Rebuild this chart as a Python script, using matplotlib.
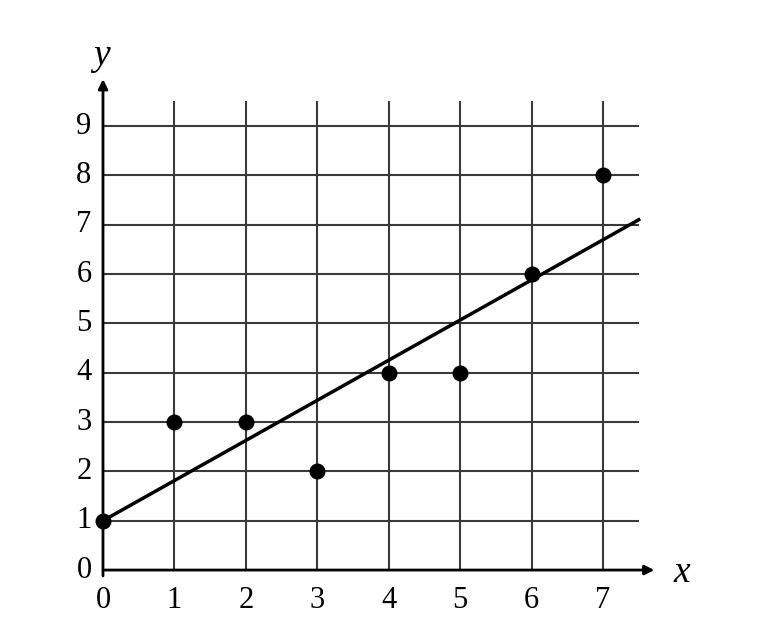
import matplotlib
matplotlib.use("Agg")
import matplotlib.pyplot as plt

# data
x_vals = [0, 1, 2, 3, 4, 5, 6, 7]
y_vals = [1, 3, 3, 2, 4, 4, 6, 8]
line_x = [0, 7.5]
line_y = [1.0, 7.1]
x_ticks = [0, 1, 2, 3, 4, 5, 6, 7]
y_ticks = [0, 1, 2, 3, 4, 5, 6, 7, 8, 9]

plt.rcParams['font.family'] = ['Liberation Serif', 'DejaVu Serif']

fig = plt.figure(figsize=(7.68, 6.32), dpi=100)
ax = fig.add_axes([0.1062, 0.059, 0.7719, 0.8587])
ax.set_xlim(-0.3, 8.0)
ax.set_ylim(-0.5, 10.5)

grid_c = '#3a3a3a'
# horizontal grid lines
for yv in y_ticks[1:]:
    ax.plot([0, 7.5], [yv, yv], color=grid_c, lw=1.5, zorder=1, solid_capstyle='butt')
# vertical grid lines
for xv in x_ticks[1:]:
    ax.plot([xv, xv], [0, 9.5], color=grid_c, lw=1.5, zorder=1, solid_capstyle='butt')

# axes with arrows
ax.annotate('', xy=(7.72, 0), xytext=(0, 0),
            arrowprops=dict(arrowstyle='-|>', color='black', lw=2.0,
                            mutation_scale=14, shrinkA=0, shrinkB=0), zorder=3)
ax.annotate('', xy=(0, 9.95), xytext=(0, -0.12),
            arrowprops=dict(arrowstyle='-|>', color='black', lw=2.0,
                            mutation_scale=14, shrinkA=0, shrinkB=0), zorder=3)

# regression line
ax.plot(line_x, line_y, color='black', lw=2.5, zorder=4)
# points
ax.plot(x_vals, y_vals, 'o', color='black', ms=10.5, zorder=5)

# tick labels
for xv in x_ticks:
    ax.text(xv, -0.62, str(xv), ha='center', va='center', fontsize=22)
for yv in y_ticks:
    ax.text(-0.16, yv, str(yv), ha='right', va='center', fontsize=22)

# axis labels
ax.text(8.1, -0.05, 'x', ha='center', va='center', fontsize=27, style='italic')
ax.text(-0.02, 10.42, 'y', ha='center', va='center', fontsize=27, style='italic')

ax.axis('off')
fig.savefig('out.png', dpi=100)
